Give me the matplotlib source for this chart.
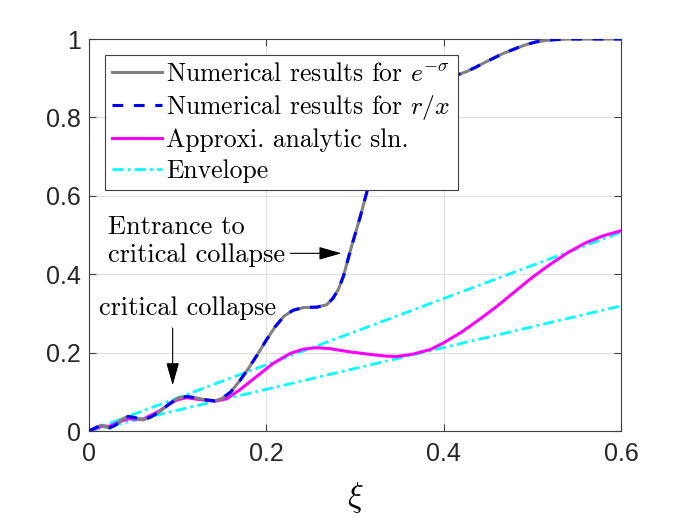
import numpy as np
import matplotlib
matplotlib.use('Agg')
import matplotlib.pyplot as plt
from matplotlib.patches import ArrowStyle

plt.rcParams['font.family'] = ['Liberation Sans', 'DejaVu Sans']
plt.rcParams['mathtext.fontset'] = 'cm'

# numerical solution e^{-sigma} (r/x lies on top of it)
xi_num = [0, 0.007, 0.014, 0.023, 0.030, 0.037, 0.044, 0.052, 0.061, 0.070,
          0.080, 0.090, 0.100, 0.110, 0.120, 0.130, 0.142, 0.150, 0.160, 0.170,
          0.180, 0.190, 0.200, 0.210, 0.220, 0.230, 0.242, 0.257, 0.268, 0.275,
          0.281, 0.287, 0.296, 0.306, 0.314, 0.322, 0.330, 0.340, 0.350, 0.365,
          0.380, 0.395, 0.405, 0.415, 0.426, 0.437, 0.448, 0.458, 0.467, 0.477,
          0.486, 0.495, 0.505, 0.515, 0.523, 0.540, 0.570, 0.600]
e_sigma = [0, 0.008, 0.015, 0.008, 0.015, 0.030, 0.037, 0.034, 0.028, 0.036,
           0.050, 0.068, 0.084, 0.088, 0.085, 0.080, 0.077, 0.083, 0.100, 0.128,
           0.160, 0.195, 0.232, 0.266, 0.293, 0.308, 0.315, 0.316, 0.322, 0.338,
           0.360, 0.395, 0.470, 0.547, 0.615, 0.690, 0.760, 0.830, 0.870, 0.893,
           0.900, 0.902, 0.904, 0.908, 0.917, 0.929, 0.942, 0.953, 0.963, 0.972,
           0.980, 0.987, 0.993, 0.996, 0.998, 1.0, 1.0, 1.0]
r_over_x = e_sigma

# approximate analytic solution
xi_app = [0, 0.014, 0.023, 0.037, 0.044, 0.061, 0.080, 0.090, 0.100, 0.110,
          0.125, 0.142, 0.155, 0.170, 0.189, 0.208, 0.227, 0.242, 0.257, 0.272,
          0.294, 0.315, 0.335, 0.347, 0.365, 0.385, 0.400, 0.420, 0.440, 0.460,
          0.480, 0.500, 0.520, 0.540, 0.560, 0.580, 0.600]
approx = [0, 0.012, 0.012, 0.026, 0.031, 0.030, 0.052, 0.068, 0.080, 0.085,
          0.080, 0.076, 0.082, 0.105, 0.139, 0.173, 0.198, 0.209, 0.2126, 0.210,
          0.202, 0.196, 0.191, 0.190, 0.196, 0.208, 0.225, 0.252, 0.284, 0.318,
          0.355, 0.392, 0.425, 0.455, 0.480, 0.498, 0.511]

# envelope slopes
xi_env = [0, 0.6]
slope_up = 0.845
slope_low = 0.532

fig = plt.figure(figsize=(6.86, 5.25), dpi=100)
ax = fig.add_axes([0.1297, 0.179, 0.7755, 0.7467])

env_up = [slope_up * v for v in xi_env]
env_low = [slope_low * v for v in xi_env]
ax.plot(xi_env, env_up, color='cyan', lw=2, dashes=(4, 1.5, 1, 1.5), zorder=2,
        label='Envelope')
ax.plot(xi_env, env_low, color='cyan', lw=2, dashes=(4, 1.5, 1, 1.5), zorder=2)
ax.plot(xi_app, approx, color='magenta', lw=2.2, zorder=3, label='Approxi. analytic sln.')
ax.plot(xi_num, e_sigma, color='gray', lw=2.2, zorder=4,
        label=r'Numerical results for $e^{-\sigma}$')
ax.plot(xi_num, r_over_x, color='blue', lw=2.2, dashes=(3.5, 3.5), zorder=5,
        label=r'Numerical results for $r/x$')

ax.set_xlim(0, 0.6)
ax.set_ylim(0, 1)
ax.set_xticks([0, 0.2, 0.4, 0.6])
ax.set_xticklabels(['0', '0.2', '0.4', '0.6'])
ax.set_yticks([0, 0.2, 0.4, 0.6, 0.8, 1])
ax.set_yticklabels(['0', '0.2', '0.4', '0.6', '0.8', '1'])
ax.tick_params(direction='in', top=True, right=True, length=5, width=0.8,
               color='0.25', labelsize=18, labelcolor='0.15')
ax.tick_params(axis='x', pad=8)
ax.tick_params(axis='y', pad=6)
ax.grid(True, color='0.88', lw=0.8)
ax.set_axisbelow(True)
for s in ax.spines.values():
    s.set_color('0.25')
    s.set_linewidth(0.8)

ax.set_xlabel(r'$\xi$', fontsize=24, labelpad=10)

handles, labels = ax.get_legend_handles_labels()
order = [2, 3, 1, 0]
leg = ax.legend([handles[i] for i in order], [labels[i] for i in order],
                loc='upper left', bbox_to_anchor=(0.030, 0.959), borderaxespad=0,
                prop={'family': 'cmr10', 'size': 18.5}, fancybox=False,
                framealpha=1, edgecolor='0.25', handlelength=1.95,
                handletextpad=0.15, labelspacing=0.26, borderpad=0.28)
leg.get_frame().set_linewidth(0.8)
leg.set_zorder(10)

arrow = ArrowStyle('-|>', head_length=1.4, head_width=0.4)
ax.annotate('', xy=(0.0944, 0.1097), xytext=(0.0944, 0.270),
            arrowprops=dict(arrowstyle=arrow, color='k', lw=0.8, mutation_scale=10))
ax.text(0.0113, 0.296, 'critical collapse', family='cmr10', fontsize=19,
        ha='left', va='baseline')

ax.annotate('', xy=(0.2879, 0.4533), xytext=(0.2241, 0.4533),
            arrowprops=dict(arrowstyle=arrow, color='k', lw=0.8, mutation_scale=10))
ax.text(0.021, 0.432, 'Entrance to\ncritical collapse', family='cmr10', fontsize=19,
        ha='left', va='baseline', linespacing=1.2)

fig.savefig('out.png', dpi=100, facecolor='white')
